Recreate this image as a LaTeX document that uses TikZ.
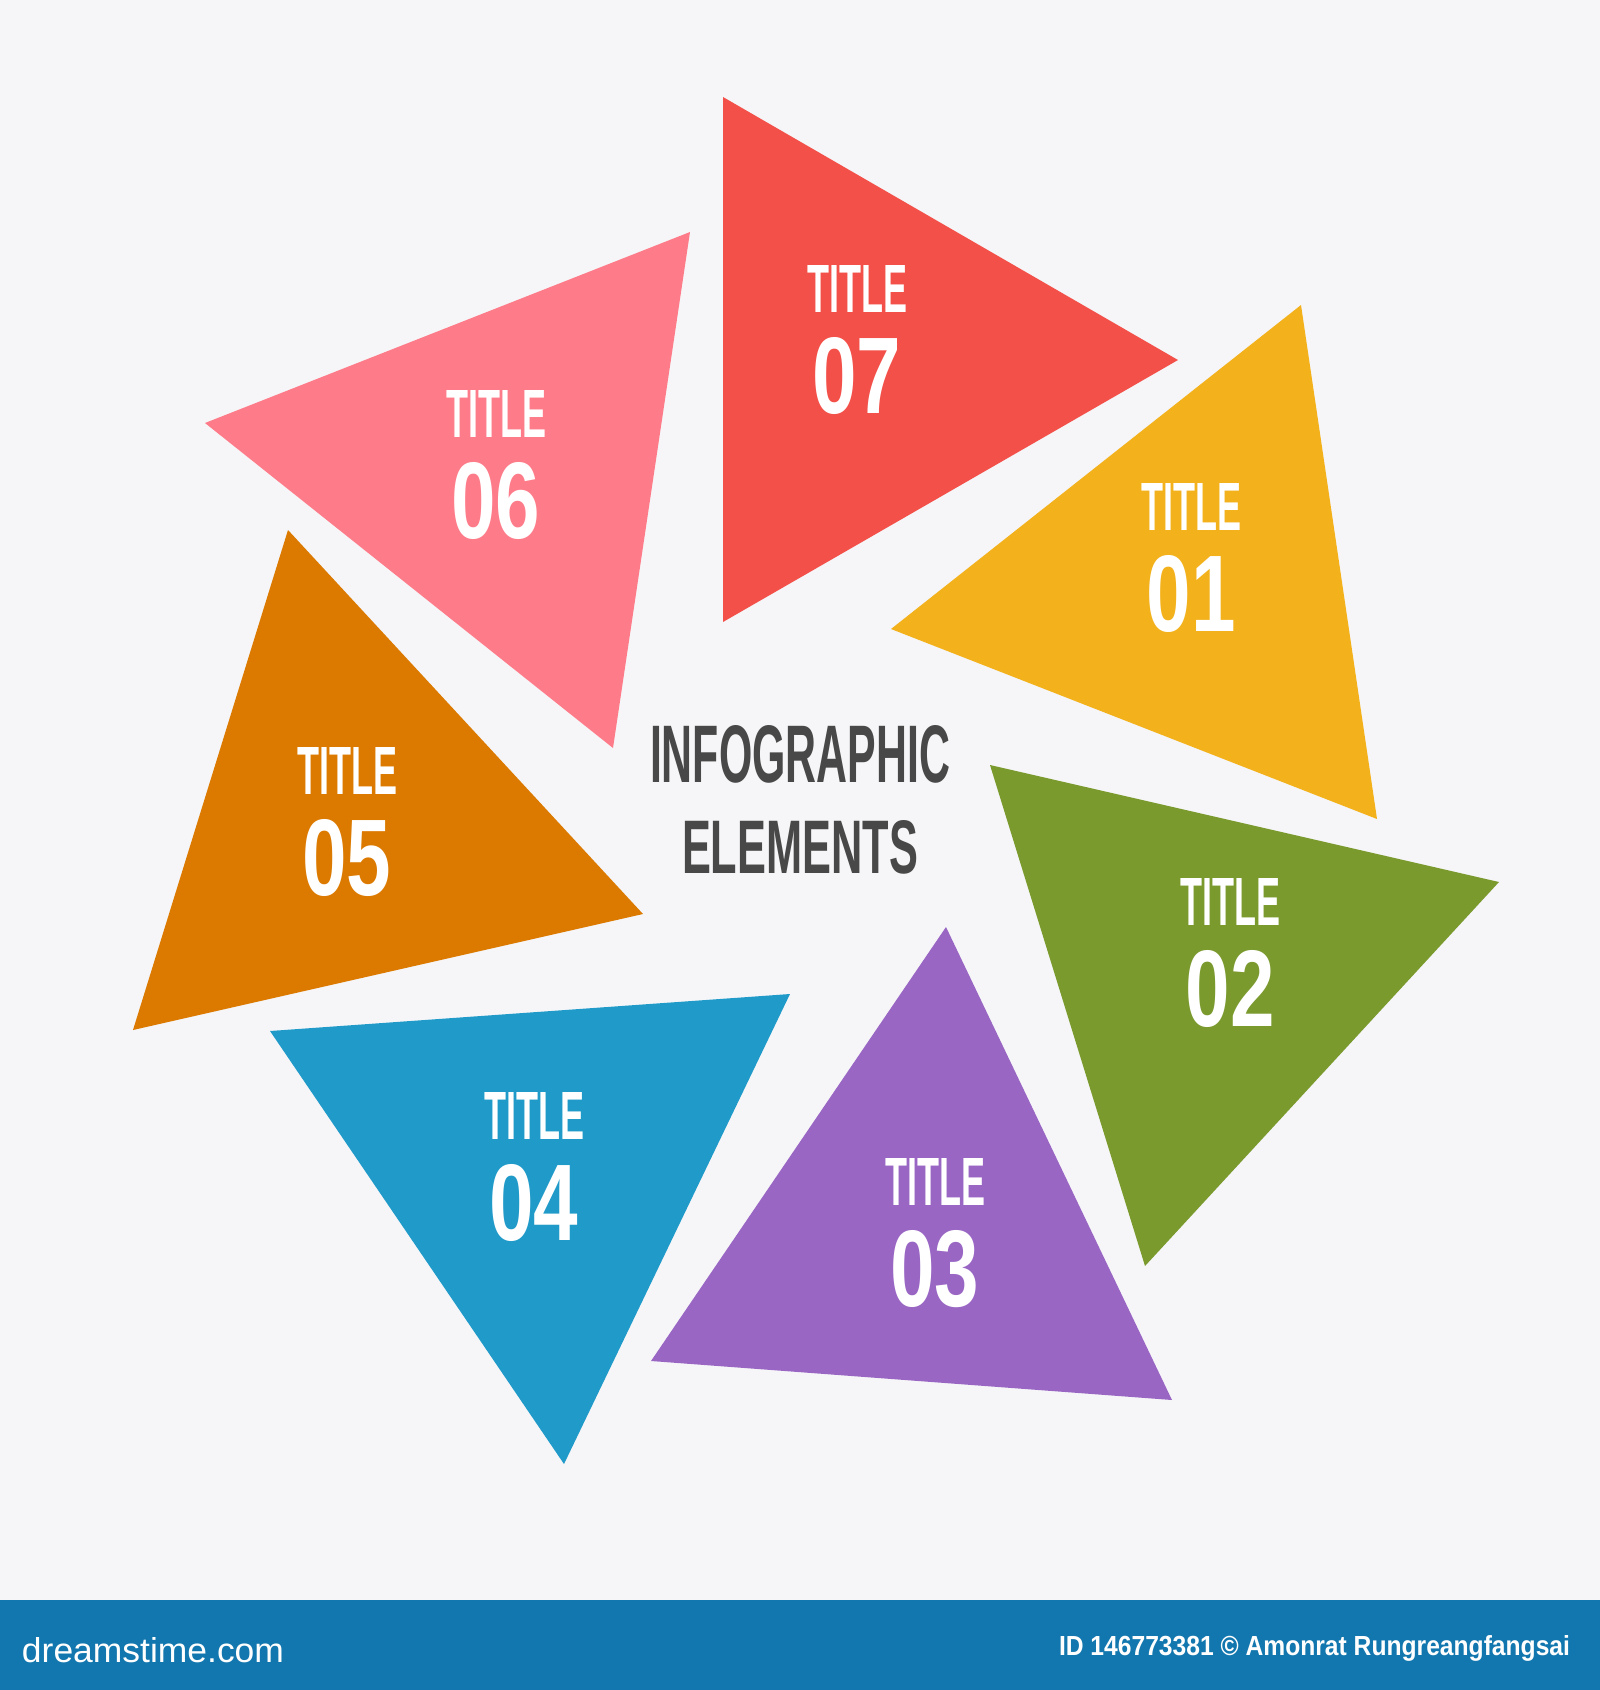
\documentclass[tikz,border=0pt]{standalone}
\usepackage{fontspec}
\setmainfont{Liberation Sans}
\usepackage{graphicx}
\definecolor{bgc}{HTML}{F6F6F8}
\definecolor{banner}{HTML}{1277AE}
\definecolor{cred}{HTML}{F35049}
\definecolor{cyellow}{HTML}{F3B11B}
\definecolor{cgreen}{HTML}{7A9A2E}
\definecolor{cpurple}{HTML}{9966C4}
\definecolor{cblue}{HTML}{1F9AC9}
\definecolor{corange}{HTML}{DC7A00}
\definecolor{cpink}{HTML}{FE7B89}
\definecolor{ctext}{HTML}{484848}
\newcommand{\fitbox}[3]{\resizebox{#1pt}{#2pt}{#3}}
\tikzset{
  lbl/.style={text=white, inner sep=0pt, outer sep=0pt, anchor=north},
  ctr/.style={text=ctext, inner sep=0pt, outer sep=0pt, anchor=north west},
  foot/.style={text=white, inner sep=0pt, outer sep=0pt, anchor=north west}
}
\newcommand{\titlelbl}[4]{% name, cx, top, number
  \node[lbl] (#1t) at (#2,#3) {\fitbox{100}{47}{\bfseries TITLE}};
  \node[lbl] (#1n) at (#2,#3+72) {\fitbox{89}{76}{\bfseries #4}};
}
\begin{document}
\begin{tikzpicture}[x=1pt,y=-1pt]
\fill[bgc] (0,0) rectangle (1600,1690);
\useasboundingbox (0,0) rectangle (1600,1690);
% triangles
\fill[cred]    (723,97)   -- (1178,360) -- (723,622)  -- cycle;
\fill[cyellow] (1301,305) -- (1377,819) -- (891,629)  -- cycle;
\fill[cgreen]  (990,765)  -- (1499,882) -- (1145,1266) -- cycle;
\fill[cpurple] (946,927)  -- (1172,1400) -- (651,1361) -- cycle;
\fill[cblue]   (790,994)  -- (564,1464) -- (270,1031) -- cycle;
\fill[corange] (288,530)  -- (643,914)  -- (133,1030) -- cycle;
\fill[cpink]   (690,232)  -- (613,748)  -- (205,423)  -- cycle;
% labels
\titlelbl{l7}{857}{265}{07}
\titlelbl{l6}{496}{390}{06}
\titlelbl{l1}{1191}{483}{01}
\titlelbl{l5}{347}{747}{05}
\titlelbl{l2}{1230}{878}{02}
\titlelbl{l4}{534}{1092}{04}
\titlelbl{l3}{935}{1158}{03}
% centre
\node[ctr] (info) at (650,725) {\fitbox{300}{57}{\bfseries INFOGRAPHIC}};
\node[ctr] (elem) at (682,820) {\fitbox{236}{53}{\bfseries ELEMENTS}};
% banner
\fill[banner] (0,1600) rectangle (1600,1690);
\node[foot] (site) at (22,1637) {\fitbox{262}{25}{dreamstime.com}};
\node[foot] (id) at (1059,1635) {\fitbox{511}{20}{\bfseries ID 146773381 © Amonrat Rungreangfangsai}};
\end{tikzpicture}
\end{document}
